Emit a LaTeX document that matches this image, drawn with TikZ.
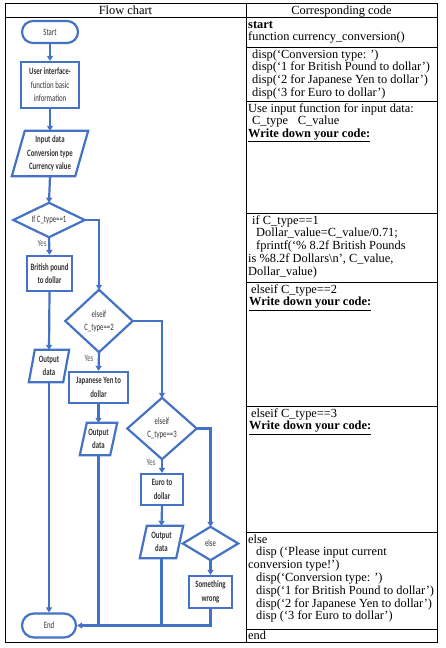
\documentclass[tikz,border=0pt]{standalone}
\usepackage{fontspec}
\setmainfont{Liberation Serif}
\newfontfamily\flowfont[FakeStretch=0.7]{Carlito}
\usetikzlibrary{arrows.meta,calc}
\definecolor{flowblue}{HTML}{4472C4}
\definecolor{flowtext}{HTML}{333333}
\begin{document}
\begin{tikzpicture}[x=1pt,y=-1pt,
  flowline/.style={draw=flowblue, line width=2.2pt},
  arr/.style={flowline, -{Triangle[length=5pt,width=6pt]}},
  shapebase/.style={inner sep=0pt, align=center, text=flowtext, font=\flowfont\fontsize{9.7}{13}\selectfont},
  boldshape/.style={shapebase, font=\flowfont\fontsize{9.7}{13.5}\selectfont\bfseries},
  procbox/.style={boldshape, draw=flowblue, line width=2.2pt, fill=white},
  termbox/.style={shapebase, draw=flowblue, line width=2.2pt, fill=white},
  yeslabel/.style={shapebase, text=flowtext!80},
  tline/.style={draw=black, line width=0.8pt},
  codeline/.style={anchor=base west, inner sep=0pt, font=\fontsize{12.4}{13}\selectfont},
  headtext/.style={anchor=base, inner sep=0pt, font=\fontsize{12.4}{13}\selectfont}
]
\useasboundingbox (0,0) rectangle (445,648);
\fill[white] (0,0) rectangle (445,648);

% ---------- table ----------
\draw[tline] (5,3) rectangle (437,642);
\draw[tline] (246,3) -- (246,642);
\draw[tline] (5,17) -- (437,17);
\foreach \yy in {47,101,213,282,406,532,629} \draw[tline] (246,\yy) -- (437,\yy);

\node[headtext] (hdrL) at (125.5,14) {Flow chart};
\node[headtext] (hdrR) at (341.5,14) {Corresponding code};

% ---------- code column ----------
\node[codeline] (c1a) at (248,28) {\textbf{start}};
\node[codeline] (c1b) at (248,40.8) {function currency\_conversion()};

\node[codeline] (c2a) at (252,58) {disp(`Conversion type: ')};
\node[codeline] (c2b) at (252,70.8) {disp(`1 for British Pound to dollar')};
\node[codeline] (c2c) at (252,83.6) {disp(`2 for Japanese Yen to dollar')};
\node[codeline] (c2d) at (252,96.4) {disp(`3 for Euro to dollar')};

\node[codeline] (c3a) at (248,112) {Use input function for input data:};
\node[codeline] (c3b) at (252,124.8) {C\_type\hspace{0.8em}C\_value};
\node[codeline] (c3c) at (248,137.6) {\underline{\textbf{Write down your code:}}};

\node[codeline] (c4a) at (252,224) {if C\_type==1};
\node[codeline] (c4b) at (256,236.8) {Dollar\_value=C\_value/0.71;};
\node[codeline] (c4c) at (256,249.6) {fprintf(`\% 8.2f British Pounds};
\node[codeline] (c4d) at (248,262.4) {is \%8.2f Dollars\textbackslash n', C\_value,};
\node[codeline] (c4e) at (248,275.2) {Dollar\_value)};

\node[codeline] (c5a) at (251,293) {elseif C\_type==2};
\node[codeline] (c5b) at (249,305.8) {\underline{\textbf{Write down your code:}}};

\node[codeline] (c6a) at (251,417) {elseif C\_type==3};
\node[codeline] (c6b) at (249,429.8) {\underline{\textbf{Write down your code:}}};

\node[codeline] (c7a) at (248,543) {else};
\node[codeline] (c7b) at (256,555.8) {disp (`Please input current};
\node[codeline] (c7c) at (248,568.6) {conversion type!')};
\node[codeline] (c7d) at (256,581.4) {disp(`Conversion type: ')};
\node[codeline] (c7e) at (256,594.2) {disp(`1 for British Pound to dollar')};
\node[codeline] (c7f) at (256,607) {disp(`2 for Japanese Yen to dollar')};
\node[codeline] (c7g) at (256,619.8) {disp (`3 for Euro to dollar')};

\node[codeline] (c8a) at (248,639) {end};

% ---------- flow chart ----------
\node[termbox, rounded corners=11pt, minimum width=56, minimum height=22] (start) at (50,32) {Start};
\node[procbox, minimum width=58, minimum height=46] (ui) at (50,85) {User interface-\\\mdseries function basic\\\mdseries information};
\node[boldshape, minimum width=63, minimum height=45] (inp) at (50,153.5) {Input data\\Conversion type\\Currency value};
\draw[flowline] ($(inp.north west)+(6.5,0)$) -- ($(inp.north east)+(6.5,0)$) -- ($(inp.south east)+(-6.5,0)$) -- ($(inp.south west)+(-6.5,0)$) -- cycle;

\node[shapebase, minimum width=71, minimum height=34] (d1) at (49,220) {If C\_type==1};
\draw[flowline] (d1.north) -- (d1.east) -- (d1.south) -- (d1.west) -- cycle;
\node[yeslabel] (y1) at (42,243) {Yes};
\node[procbox, minimum width=45, minimum height=35] (brit) at (49.5,273.5) {British pound\\to dollar};

\node[boldshape, minimum width=34, minimum height=32] (out1) at (49,366) {Output\\data};
\draw[flowline] ($(out1.north west)+(3,0)$) -- ($(out1.north east)+(3,0)$) -- ($(out1.south east)+(-3,0)$) -- ($(out1.south west)+(-3,0)$) -- cycle;

\node[shapebase, minimum width=67, minimum height=62] (d2) at (99,321) {elseif\\C\_type==2};
\draw[flowline] (d2.north) -- (d2.east) -- (d2.south) -- (d2.west) -- cycle;
\node[yeslabel] (y2) at (89,358) {Yes};
\node[procbox, minimum width=59, minimum height=31] (jap) at (98.5,387.5) {Japanese Yen to\\dollar};
\node[boldshape, minimum width=30, minimum height=32] (out2) at (98.5,439) {Output\\data};
\draw[flowline] ($(out2.north west)+(3.5,0)$) -- ($(out2.north east)+(3.5,0)$) -- ($(out2.south east)+(-3.5,0)$) -- ($(out2.south west)+(-3.5,0)$) -- cycle;

\node[shapebase, minimum width=69, minimum height=61] (d3) at (162,428.5) {elseif\\C\_type==3};
\draw[flowline] (d3.north) -- (d3.east) -- (d3.south) -- (d3.west) -- cycle;
\node[yeslabel] (y3) at (151,462) {Yes};
\node[procbox, minimum width=42, minimum height=31] (euro) at (162,489.5) {Euro to\\dollar};
\node[boldshape, minimum width=36, minimum height=32] (out3) at (161.5,542) {Output\\data};
\draw[flowline] ($(out3.north west)+(3.5,0)$) -- ($(out3.north east)+(3.5,0)$) -- ($(out3.south east)+(-3.5,0)$) -- ($(out3.south west)+(-3.5,0)$) -- cycle;

\node[shapebase, minimum width=55, minimum height=33] (els) at (210.5,543.5) {else};
\draw[flowline] (els.north) -- (els.east) -- (els.south) -- (els.west) -- cycle;
\node[procbox, minimum width=43, minimum height=32] (wrong) at (210.5,592) {Something\\wrong};

\node[termbox, rounded corners=12pt, minimum width=54, minimum height=24] (end) at (49,625.5) {End};

% connectors
\draw[arr] (start.south) -- (ui.north);
\draw[arr] (ui.south) -- (inp.north);
\draw[arr] (inp.south) -- (d1.north);
\draw[arr] (d1.south) -- (brit.north);
\draw[arr] (brit.south) -- (out1.north);
\draw[arr] (out1.south) -- (end.north);
\draw[arr] (d1.east) -| (d2.north);
\draw[arr] (d2.south) -- (jap.north);
\draw[arr] (jap.south) -- (out2.north);
\draw[arr] (d2.east) -| (d3.north);
\draw[arr] (d3.south) -- (euro.north);
\draw[arr] (euro.south) -- (out3.north);
\draw[arr] (d3.east) -| (els.north);
\draw[arr] (els.south) -- (wrong.north);
\coordinate (j2) at (out2.south |- end.east);
\coordinate (j3) at (out3.south |- end.east);
\coordinate (jw) at (wrong.south |- end.east);
\draw[flowline] (out2.south) -- (j2);
\draw[flowline] (out3.south) -- (j3);
\draw[arr] (wrong.south) -- (jw) -- (end.east);
\end{tikzpicture}
\end{document}
